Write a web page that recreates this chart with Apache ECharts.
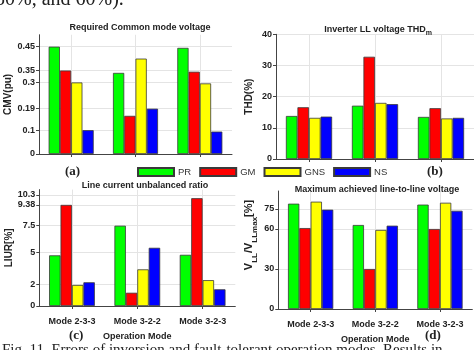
<!DOCTYPE html>
<html>
<head>
<meta charset="utf-8">
<script src="https://cdn.jsdelivr.net/npm/echarts@6/dist/echarts.min.js"></script>
<style>
  html, body { margin: 0; padding: 0; background: #fff; }
  #main { width: 474px; height: 350px; }
</style>
</head>
<body>
<div id="main"></div>
<script>
// categories
var modes = ['Mode 2-3-3', 'Mode 3-2-2', 'Mode 3-2-3'];
var methods = ['PR', 'GM', 'GNS', 'NS'];
var colors = ['#00ff00', '#ff0000', '#ffff00', '#0000ff'];

// (a) common mode voltage, pu
var cmvPR = [0.45, 0.34, 0.445];
var cmvGM = [0.35, 0.16, 0.345];
var cmvGNS = [0.30, 0.40, 0.296];
var cmvNS = [0.10, 0.19, 0.094];
var cmvTicks = [0, 0.1, 0.19, 0.3, 0.35, 0.45];

// (b) THD, %
var thdPR = [13.8, 17.1, 13.5];
var thdGM = [16.6, 32.8, 16.3];
var thdGNS = [13.2, 18.0, 13.0];
var thdNS = [13.6, 17.6, 13.2];
var thdTicks = [0, 10, 20, 30, 40];

// (c) line current unbalanced ratio, %
var liurPR = [4.7, 7.45, 4.75];
var liurGM = [9.38, 1.23, 10.0];
var liurGNS = [1.95, 3.4, 2.4];
var liurNS = [2.2, 5.4, 1.55];
var liurTicks = [0, 2, 5, 7.5, 9.38, 10.3];

// (d) max line-to-line voltage, %
var vllPR = [79, 63, 78.3];
var vllGM = [60.7, 30, 60];
var vllGNS = [80.5, 59.3, 79.7];
var vllNS = [74.5, 62.5, 73.7];
var vllTicks = [0, 30, 60, 75];

var FONT = '"Liberation Sans", Arial, sans-serif';
var SERIF = '"Liberation Serif", "Times New Roman", serif';

function xAx(idx, showLabels) {
	return {
		type: 'category',
		gridIndex: idx,
		data: modes,
		boundaryGap: true,
		axisLine: { lineStyle: { color: '#444', width: 1 } },
		axisTick: { show: true, alignWithLabel: true, length: 3, lineStyle: { color: '#444' } },
		splitLine: { show: true, alignWithLabel: true, lineStyle: { color: '#e4e4e4', width: 1 } },
		axisLabel: {
			show: showLabels,
			color: '#222',
			fontFamily: FONT,
			fontWeight: 'bold',
			fontSize: 9,
			margin: 11
		},
		name: showLabels ? 'Operation Mode' : '',
		nameLocation: 'middle',
		nameGap: 26,
		nameTextStyle: { color: '#222', fontFamily: FONT, fontWeight: 'bold', fontSize: 9 }
	};
}

function yAx(idx, max, ticks, name, gap, nameStyle) {
	return {
		type: 'value',
		gridIndex: idx,
		min: 0,
		max: max,
		axisLine: { show: true, lineStyle: { color: '#444', width: 1 } },
		axisTick: { show: true, length: 3, customValues: ticks, lineStyle: { color: '#444' } },
		splitLine: { show: true, lineStyle: { color: '#e4e4e4', width: 1 } },
		axisLabel: {
			customValues: ticks,
			color: '#222',
			fontFamily: FONT,
			fontWeight: 'bold',
			fontSize: 9,
			margin: 4
		},
		name: name,
		nameLocation: 'middle',
		nameRotate: 90,
		nameGap: gap,
		nameTextStyle: nameStyle
	};
}

function barSeries(idx, arrs) {
	return arrs.map(function (d, i) {
		return {
			name: methods[i],
			type: 'bar',
			xAxisIndex: idx,
			yAxisIndex: idx,
			data: d,
			barGap: '0%',
			barCategoryGap: '30%',
			itemStyle: { color: colors[i], borderColor: '#3a3a3a', borderWidth: 0.8 }
		};
	});
}

var axisNameStyle = { color: '#222', fontFamily: FONT, fontWeight: 'bold', fontSize: 10 };

var option = {
	backgroundColor: '#fff',
	animation: false,
	textStyle: { fontFamily: FONT },
	title: [
		{ text: 'Required Common mode voltage', left: 140, top: 23, textAlign: 'center', padding: 0,
		  textStyle: { fontSize: 9, fontWeight: 'bold', color: '#222', fontFamily: FONT } },
		{ text: 'Inverter LL voltage THD{s|m}', left: 378, top: 22, textAlign: 'center', padding: 0,
		  textStyle: { fontSize: 9, fontWeight: 'bold', color: '#222', fontFamily: FONT,
		    rich: { s: { fontSize: 7, fontWeight: 'bold', color: '#222', fontFamily: FONT, padding: [8, 0, 0, 0] } } } },
		{ text: 'Line current unbalanced ratio', left: 145, top: 181, textAlign: 'center', padding: 0,
		  textStyle: { fontSize: 9, fontWeight: 'bold', color: '#222', fontFamily: FONT } },
		{ text: 'Maximum achieved line-to-line voltage', left: 377, top: 185, textAlign: 'center', padding: 0,
		  textStyle: { fontSize: 9, fontWeight: 'bold', color: '#222', fontFamily: FONT } }
	],
	legend: {
		data: methods,
		left: 137,
		top: 167,
		itemWidth: 36,
		itemHeight: 8,
		itemGap: 8,
		icon: 'rect',
		padding: 0,
		textStyle: { fontSize: 9.5, color: '#333', fontFamily: FONT, padding: [0, 0, 0, -1] }
	},
	grid: [
		{ left: 39, top: 34.75, width: 193, height: 119.25 },
		{ left: 276, top: 34.3, width: 198, height: 124.7 },
		{ left: 39.3, top: 189.6, width: 196, height: 116.4 },
		{ left: 278.3, top: 191, width: 194, height: 118 }
	],
	xAxis: [xAx(0, false), xAx(1, false), xAx(2, true), xAx(3, true)],
	yAxis: [
		yAx(0, 0.5, cmvTicks, 'CMV(pu)', 25, axisNameStyle),
		yAx(1, 40, thdTicks, 'THD(%)', 22, axisNameStyle),
		yAx(2, 10.8, liurTicks, 'LIUR[%]', 23, axisNameStyle),
		yAx(3, 88.5, vllTicks, '{v|V}{s|LL}{v|/V}{s|LLmax}{v|[%]}', 20, {
			padding: [0, 0, 0, 30],
			rich: {
				v: { fontSize: 11, fontWeight: 'bold', color: '#222', fontFamily: FONT, verticalAlign: 'bottom', padding: [0, 0, 4, 0] },
				s: { fontSize: 8, fontWeight: 'bold', color: '#222', fontFamily: FONT, verticalAlign: 'bottom' }
			}
		})
	],
	series: [].concat(
		barSeries(0, [cmvPR, cmvGM, cmvGNS, cmvNS]),
		barSeries(1, [thdPR, thdGM, thdGNS, thdNS]),
		barSeries(2, [liurPR, liurGM, liurGNS, liurNS]),
		barSeries(3, [vllPR, vllGM, vllGNS, vllNS])
	),
	graphic: [
		{ type: 'text', left: -5, top: -10, style: { text: '30%, and 60%).', font: '20px ' + SERIF, fill: '#222' } },
		{ type: 'text', left: 65, top: 165, style: { text: '(a)', font: 'bold 13px ' + SERIF, fill: '#222' } },
		{ type: 'text', left: 427, top: 165, style: { text: '(b)', font: 'bold 13px ' + SERIF, fill: '#222' } },
		{ type: 'text', left: 69, top: 329, style: { text: '(c)', font: 'bold 13px ' + SERIF, fill: '#222' } },
		{ type: 'text', left: 425, top: 329, style: { text: '(d)', font: 'bold 13px ' + SERIF, fill: '#222' } },
		{ type: 'text', left: 2, top: 343, style: { text: 'Fig. 11. Errors of inversion and fault-tolerant operation modes. Results in', font: '15px ' + SERIF, fill: '#222' } }
	]
};

var chart = echarts.init(document.getElementById('main'), null, { renderer: 'canvas' });
chart.setOption(option);
</script>
</body>
</html>
